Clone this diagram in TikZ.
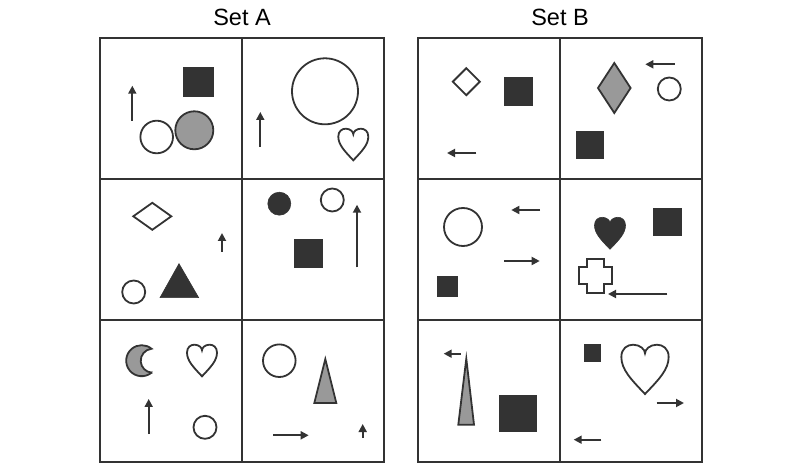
\documentclass[tikz,border=0pt]{standalone}
\usepackage{fontspec}
\setmainfont{Liberation Sans}
\usetikzlibrary{arrows.meta,calc}
\definecolor{dk}{HTML}{333333}
\definecolor{gy}{HTML}{999999}
\tikzset{
  ol/.style={draw=dk,line width=1.8pt,fill=white},
  gf/.style={draw=dk,line width=1.8pt,fill=gy},
  bk/.style={fill=dk,draw=dk,line width=0.6pt},
  arr/.style={draw=dk,line width=1.8pt,-{Triangle[length=8pt,width=8pt]}},
  grid/.style={draw=dk,line width=2pt},
  ttl/.style={font=\fontsize{23.5}{28}\selectfont,text=black}
}
\newcommand{\hrt}[5]{% style, cx, top, bottom, width
  \begin{scope}[shift={(#2,#3)},xscale=#5/2,yscale=(#4-#3)/2]
  \path[#1] (0,2) .. controls (-0.6,1.4) and (-1,1.0) .. (-1,0.5) .. controls (-1,0.15) and (-0.75,0) .. (-0.5,0) .. controls (-0.2,0) and (0,0.2) .. (0,0.35) .. controls (0,0.2) and (0.2,0) .. (0.5,0) .. controls (0.75,0) and (1,0.15) .. (1,0.5) .. controls (1,1.0) and (0.6,1.4) .. (0,2) -- cycle;
  \end{scope}}
\begin{document}
\begin{tikzpicture}[x=1pt,y=-1pt]
\useasboundingbox (0,0) rectangle (801,470);
\node[ttl] (ta) at (242,17) {Set A};
\node[ttl] (tb) at (560,17) {Set B};
% grids
\draw[grid] (100,38) rectangle (384,462);
\draw[grid] (242,38) -- (242,462) (100,179) -- (384,179) (100,320) -- (384,320);
\draw[grid] (418,38) rectangle (702,462);
\draw[grid] (560,38) -- (560,462) (418,179) -- (702,179) (418,320) -- (702,320);
% A 1,1
\draw[arr] (132.3,120.7) -- (132.3,85.7);
\path[bk] (183,67) rectangle (213,96.3);
\path[ol] (156.7,137) circle (16.3);
\path[gf] (194.3,130.3) circle (19);
% A 1,2
\path[ol] (325,91.3) circle (33);
\draw[arr] (260.3,147) -- (260.3,112);
\hrt{ol}{353.3}{128.7}{160.3}{30}
% A 2,1
\path[ol] (133.3,216.3) -- (152.3,202.8) -- (171.3,216.3) -- (152.3,229.8) -- cycle;
\draw[arr] (222,252) -- (222,233);
\path[ol] (133.7,292) circle (11.5);
\path[bk] (179,263.7) -- (198.7,297.7) -- (160,297.7) -- cycle;
% A 2,2
\path[bk] (279.3,203.7) circle (11.5);
\path[ol] (332.3,200) circle (11.5);
\path[bk] (294.7,239.3) rectangle (322.7,267.3);
\draw[arr] (357,267.3) -- (357,204.7);
% A 3,1
\path[gf] ($(141.7,360.7)+(50.4:15.5)$) arc[start angle=50.4,end angle=309.6,radius=15.5] arc[start angle=264.6,end angle=95.4,radius=12] -- cycle;
\hrt{ol}{202}{344.7}{376.3}{30}
\draw[arr] (148.7,434) -- (148.7,399);
\path[ol] (205,427.3) circle (11.5);
% A 3,2
\path[ol] (279.3,360.7) circle (16.3);
\path[gf] (325.3,359) -- (336.3,403) -- (314.3,403) -- cycle;
\draw[arr] (273.3,435.3) -- (308.7,435.3);
\draw[arr] (362.7,438) -- (362.7,424);
% B 1,1
\path[ol] (452.8,81.7) -- (466.3,68.2) -- (479.8,81.7) -- (466.3,95.2) -- cycle;
\path[bk] (504.3,77.7) rectangle (532,105.3);
\draw[arr] (476.3,153) -- (447,153);
% B 1,2
\path[gf] (598,88) -- (614.3,63) -- (630.6,88) -- (614.3,113) -- cycle;
\draw[arr] (674.7,64.3) -- (645.3,64.3);
\path[ol] (669.3,89) circle (11.5);
\path[bk] (576,131) rectangle (603.7,158.7);
% B 2,1
\path[ol] (463,227) circle (19);
\draw[arr] (540,210) -- (511.3,210);
\draw[arr] (504,261) -- (539.7,261);
\path[bk] (437.3,276.3) rectangle (457,296);
% B 2,2
\hrt{bk}{610}{217.3}{249.3}{31}
\path[bk] (653.3,208) rectangle (681,235.3);
\path[ol] (586.7,259) -- (604,259) -- (604,267) -- (612.3,267) -- (612.3,284) -- (604,284) -- (604,293) -- (586.7,293) -- (586.7,284) -- (578.7,284) -- (578.7,267) -- (586.7,267) -- cycle;
\draw[arr] (667.3,294) -- (608,294);
% B 3,1
\draw[arr] (460.7,353.7) -- (443.7,353.7);
\path[gf] (466.3,358.7) -- (474,424.7) -- (458.3,424.7) -- cycle;
\path[bk] (499.7,395.3) rectangle (536,431.3);
% B 3,2
\path[bk] (584.3,344.7) rectangle (600.7,361.3);
\hrt{ol}{645}{344.7}{394}{47.3}
\draw[arr] (656.7,403) -- (684,403);
\draw[arr] (601.3,439.7) -- (573.7,439.7);
\end{tikzpicture}
\end{document}
